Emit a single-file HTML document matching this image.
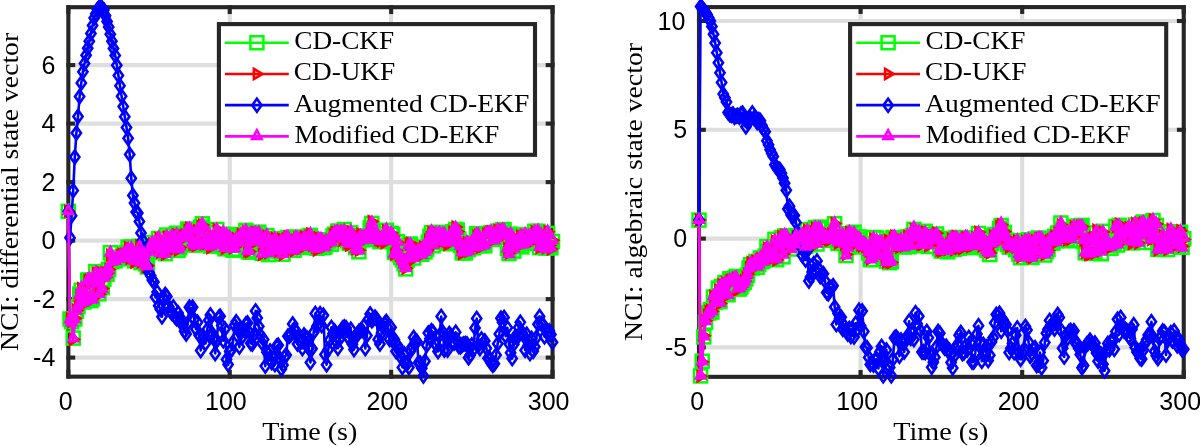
<!DOCTYPE html>
<html lang="en">
<head>
<meta charset="utf-8">
<title>NCI plots</title>
<style>
html,body{margin:0;padding:0;background:#fff;}
body{width:1200px;height:446px;overflow:hidden;}
svg{display:block;}
.tk{font-family:"Liberation Sans",sans-serif;font-size:25px;fill:#000;}
.lb{font-family:"Liberation Serif",serif;font-size:25.5px;fill:#000;}
.ax{stroke:#262626;stroke-width:4.1;fill:none;stroke-linecap:square;}
.gd{stroke:#dedede;stroke-width:4.1;fill:none;}
.ln{fill:none;stroke-width:2.6;stroke-linejoin:round;}
.g{stroke:#00ff00;} .r{stroke:#ff0000;} .b{stroke:#0000ff;} .m{stroke:#ff00ff;}
</style>
</head>
<body>
<svg width="1200" height="446" viewBox="0 0 1200 446">
<defs>
<marker id="mg" markerUnits="userSpaceOnUse" markerWidth="20" markerHeight="20" refX="10" refY="10" overflow="visible"><rect x="3.5" y="3.5" width="13" height="13" fill="none" stroke="#00ff00" stroke-width="2.5"/></marker>
<marker id="mr" markerUnits="userSpaceOnUse" markerWidth="20" markerHeight="20" refX="10" refY="10" overflow="visible"><path d="M7 5 L15.5 10 L7 15 Z" fill="none" stroke="#ff0000" stroke-width="2.6" stroke-linejoin="miter"/></marker>
<marker id="mb" markerUnits="userSpaceOnUse" markerWidth="20" markerHeight="20" refX="10" refY="10" overflow="visible"><path d="M10 3.5 L14.6 10 L10 16.5 L5.4 10 Z" fill="none" stroke="#0000ff" stroke-width="2.6" stroke-linejoin="miter"/></marker>
<marker id="mm" markerUnits="userSpaceOnUse" markerWidth="20" markerHeight="20" refX="10" refY="10" overflow="visible"><path d="M10 4.1 L14.6 12.6 L5.4 12.6 Z" fill="none" stroke="#ff00ff" stroke-width="2.7" stroke-linejoin="miter"/></marker>
</defs>
<rect x="0" y="0" width="1200" height="446" fill="#ffffff"/>

<g>
<line class="gd" x1="229.75" y1="7.2" x2="229.75" y2="376.65"/>
<line class="gd" x1="391.15" y1="7.2" x2="391.15" y2="376.65"/>
<line class="gd" x1="68.35" y1="65.10" x2="552.55" y2="65.10"/>
<line class="gd" x1="68.35" y1="123.60" x2="552.55" y2="123.60"/>
<line class="gd" x1="68.35" y1="182.10" x2="552.55" y2="182.10"/>
<line class="gd" x1="68.35" y1="240.60" x2="552.55" y2="240.60"/>
<line class="gd" x1="68.35" y1="299.10" x2="552.55" y2="299.10"/>
<line class="gd" x1="68.35" y1="357.60" x2="552.55" y2="357.60"/>
<rect class="ax" x="68.35" y="7.2" width="484.20" height="369.45"/>
<line class="ax" x1="68.35" y1="376.65" x2="68.35" y2="371.85"/>
<line class="ax" x1="68.35" y1="7.2" x2="68.35" y2="12.00"/>
<line class="ax" x1="229.75" y1="376.65" x2="229.75" y2="371.85"/>
<line class="ax" x1="229.75" y1="7.2" x2="229.75" y2="12.00"/>
<line class="ax" x1="391.15" y1="376.65" x2="391.15" y2="371.85"/>
<line class="ax" x1="391.15" y1="7.2" x2="391.15" y2="12.00"/>
<line class="ax" x1="552.55" y1="376.65" x2="552.55" y2="371.85"/>
<line class="ax" x1="552.55" y1="7.2" x2="552.55" y2="12.00"/>
<line class="ax" x1="68.35" y1="65.10" x2="73.15" y2="65.10"/>
<line class="ax" x1="552.55" y1="65.10" x2="547.75" y2="65.10"/>
<line class="ax" x1="68.35" y1="123.60" x2="73.15" y2="123.60"/>
<line class="ax" x1="552.55" y1="123.60" x2="547.75" y2="123.60"/>
<line class="ax" x1="68.35" y1="182.10" x2="73.15" y2="182.10"/>
<line class="ax" x1="552.55" y1="182.10" x2="547.75" y2="182.10"/>
<line class="ax" x1="68.35" y1="240.60" x2="73.15" y2="240.60"/>
<line class="ax" x1="552.55" y1="240.60" x2="547.75" y2="240.60"/>
<line class="ax" x1="68.35" y1="299.10" x2="73.15" y2="299.10"/>
<line class="ax" x1="552.55" y1="299.10" x2="547.75" y2="299.10"/>
<line class="ax" x1="68.35" y1="357.60" x2="73.15" y2="357.60"/>
<line class="ax" x1="552.55" y1="357.60" x2="547.75" y2="357.60"/>
<text class="tk" text-anchor="end" x="55.3" y="73.6">6</text>
<text class="tk" text-anchor="end" x="55.3" y="132.1">4</text>
<text class="tk" text-anchor="end" x="55.3" y="190.6">2</text>
<text class="tk" text-anchor="end" x="55.3" y="249.1">0</text>
<text class="tk" text-anchor="end" x="55.3" y="307.6">-2</text>
<text class="tk" text-anchor="end" x="55.3" y="366.1">-4</text>
<text class="tk" text-anchor="middle" x="65.8" y="409.9">0</text>
<text class="tk" text-anchor="middle" x="225.9" y="409.9">100</text>
<text class="tk" text-anchor="middle" x="387.4" y="409.9">200</text>
<text class="tk" text-anchor="middle" x="548.6" y="409.9">300</text>
<text class="lb" text-anchor="middle" x="309.8" y="439.7" textLength="95" lengthAdjust="spacingAndGlyphs">Time (s)</text>
<text class="lb" text-anchor="middle" transform="translate(18.3,191.9) rotate(-90)" textLength="318" lengthAdjust="spacingAndGlyphs">NCI: differential state vector</text>
<polyline class="ln g" marker-start="url(#mg)" marker-mid="url(#mg)" marker-end="url(#mg)" points="68.3,211.3 70.0,319.0 71.6,321.7 73.2,338.1 74.8,319.0 76.4,311.1 78.0,306.7 79.6,294.2 81.3,290.2 82.9,302.0 84.5,301.5 86.1,296.7 87.7,280.1 89.3,280.0 90.9,300.6 92.6,298.7 94.2,279.7 95.8,271.6 97.4,281.0 99.0,293.8 100.6,273.7 102.2,287.7 103.9,279.4 105.5,273.4 107.1,274.3 108.7,269.3 110.3,252.7 111.9,261.6 113.5,258.5 115.2,260.9 116.8,257.7 118.4,258.8 120.0,257.3 121.6,258.1 123.2,255.4 124.8,253.7 126.5,252.8 128.1,247.2 129.7,258.4 131.3,246.9 132.9,255.5 134.5,260.8 136.1,258.1 137.8,254.7 139.4,246.3 141.0,262.7 142.6,254.8 144.2,253.8 145.8,263.9 147.4,267.0 149.0,252.6 150.7,247.7 152.3,242.6 153.9,245.6 155.5,245.5 157.1,246.7 158.7,238.5 160.3,251.5 162.0,249.6 163.6,242.4 165.2,253.7 166.8,235.0 168.4,249.3 170.0,244.9 171.6,235.8 173.3,246.2 174.9,247.7 176.5,233.2 178.1,250.4 179.7,247.7 181.3,238.3 182.9,237.7 184.6,236.2 186.2,234.8 187.8,229.0 189.4,230.8 191.0,229.9 192.6,241.8 194.2,245.0 195.9,244.7 197.5,231.6 199.1,244.4 200.7,227.1 202.3,223.8 203.9,242.6 205.5,244.0 207.2,244.3 208.8,232.7 210.4,246.1 212.0,242.8 213.6,244.9 215.2,240.9 216.8,229.5 218.5,245.9 220.1,238.8 221.7,235.8 223.3,234.5 224.9,248.8 226.5,234.4 228.1,239.6 229.7,236.1 231.4,242.7 233.0,250.2 234.6,249.1 236.2,238.6 237.8,242.1 239.4,243.4 241.0,235.0 242.7,234.5 244.3,238.2 245.9,230.4 247.5,250.6 249.1,252.2 250.7,233.0 252.3,241.8 254.0,233.1 255.6,232.6 257.2,240.9 258.8,232.2 260.4,238.9 262.0,253.3 263.6,244.7 265.3,241.8 266.9,235.6 268.5,254.6 270.1,247.6 271.7,251.1 273.3,247.1 274.9,238.6 276.6,240.5 278.2,250.3 279.8,247.9 281.4,240.7 283.0,254.2 284.6,249.1 286.2,238.9 287.9,237.5 289.5,244.8 291.1,247.7 292.7,245.2 294.3,250.2 295.9,237.0 297.5,238.9 299.2,238.9 300.8,247.4 302.4,246.6 304.0,238.0 305.6,238.6 307.2,244.6 308.8,236.1 310.4,235.4 312.1,246.1 313.7,244.5 315.3,247.4 316.9,248.3 318.5,239.8 320.1,240.8 321.7,240.1 323.4,247.6 325.0,246.9 326.6,241.7 328.2,241.1 329.8,239.7 331.4,244.2 333.0,235.9 334.7,234.1 336.3,234.9 337.9,231.0 339.5,235.6 341.1,232.6 342.7,239.2 344.3,229.5 346.0,238.1 347.6,240.8 349.2,243.5 350.8,232.9 352.4,235.6 354.0,238.6 355.6,247.6 357.3,243.2 358.9,251.8 360.5,237.7 362.1,239.7 363.7,238.4 365.3,235.7 366.9,239.6 368.6,237.5 370.2,228.0 371.8,223.4 373.4,235.5 375.0,237.7 376.6,234.0 378.2,239.3 379.9,241.6 381.5,240.3 383.1,237.2 384.7,241.3 386.3,230.3 387.9,240.2 389.5,240.3 391.1,233.4 392.8,234.4 394.4,252.5 396.0,250.3 397.6,241.8 399.2,254.6 400.8,257.5 402.4,259.8 404.1,263.7 405.7,268.9 407.3,260.0 408.9,245.1 410.5,244.0 412.1,250.7 413.7,258.0 415.4,253.5 417.0,253.1 418.6,250.1 420.2,252.9 421.8,254.3 423.4,247.2 425.0,251.9 426.7,249.1 428.3,242.2 429.9,236.2 431.5,232.7 433.1,245.7 434.7,236.7 436.3,232.4 438.0,238.6 439.6,234.3 441.2,242.4 442.8,235.2 444.4,232.9 446.0,242.2 447.6,243.4 449.3,240.6 450.9,243.7 452.5,231.8 454.1,233.9 455.7,229.4 457.3,230.1 458.9,239.1 460.6,245.3 462.2,252.9 463.8,251.4 465.4,253.0 467.0,243.5 468.6,249.5 470.2,245.5 471.8,243.0 473.5,247.8 475.1,245.5 476.7,233.7 478.3,234.1 479.9,245.7 481.5,244.1 483.1,245.3 484.8,245.8 486.4,233.5 488.0,235.1 489.6,233.6 491.2,232.6 492.8,238.8 494.4,239.4 496.1,237.0 497.7,231.1 499.3,235.9 500.9,232.4 502.5,229.6 504.1,229.7 505.7,234.9 507.4,248.4 509.0,253.6 510.6,234.1 512.2,235.8 513.8,251.1 515.4,245.9 517.0,242.7 518.7,245.6 520.3,237.4 521.9,246.9 523.5,243.5 525.1,234.8 526.7,243.2 528.3,235.0 530.0,237.1 531.6,238.6 533.2,239.6 534.8,231.3 536.4,241.5 538.0,231.3 539.6,247.7 541.3,234.4 542.9,236.0 544.5,245.2 546.1,248.1 547.7,233.4 549.3,247.2 550.9,247.8 552.5,241.5"/>
<polyline class="ln r" marker-start="url(#mr)" marker-mid="url(#mr)" marker-end="url(#mr)" points="68.3,211.3 70.0,318.8 71.6,321.6 73.2,339.4 74.8,318.4 76.4,310.5 78.0,306.4 79.6,295.5 81.3,288.6 82.9,304.6 84.5,301.1 86.1,296.2 87.7,280.7 89.3,280.3 90.9,300.3 92.6,298.6 94.2,281.4 95.8,273.2 97.4,283.7 99.0,294.3 100.6,272.6 102.2,288.6 103.9,278.6 105.5,272.9 107.1,273.4 108.7,269.5 110.3,255.0 111.9,261.4 113.5,258.6 115.2,261.0 116.8,258.5 118.4,258.8 120.0,255.9 121.6,254.4 123.2,255.1 124.8,254.3 126.5,254.4 128.1,247.6 129.7,258.2 131.3,249.2 132.9,253.6 134.5,262.3 136.1,256.4 137.8,255.2 139.4,245.8 141.0,261.9 142.6,253.9 144.2,254.5 145.8,266.7 147.4,265.4 149.0,250.7 150.7,248.1 152.3,243.9 153.9,244.7 155.5,246.0 157.1,247.4 158.7,238.5 160.3,252.2 162.0,249.7 163.6,241.6 165.2,254.3 166.8,236.9 168.4,249.1 170.0,247.0 171.6,237.8 173.3,248.3 174.9,248.2 176.5,234.9 178.1,249.9 179.7,247.4 181.3,237.9 182.9,236.1 184.6,234.9 186.2,237.0 187.8,230.5 189.4,228.1 191.0,232.3 192.6,244.0 194.2,244.1 195.9,245.5 197.5,230.7 199.1,244.1 200.7,226.7 202.3,225.0 203.9,243.8 205.5,243.2 207.2,242.9 208.8,233.6 210.4,247.8 212.0,242.6 213.6,244.1 215.2,242.8 216.8,229.6 218.5,243.4 220.1,239.0 221.7,236.9 223.3,232.8 224.9,248.5 226.5,234.9 228.1,238.9 229.7,237.2 231.4,241.8 233.0,247.8 234.6,247.1 236.2,238.8 237.8,241.7 239.4,242.0 241.0,234.3 242.7,236.1 244.3,238.7 245.9,231.6 247.5,250.8 249.1,251.7 250.7,234.6 252.3,243.5 254.0,233.3 255.6,232.7 257.2,240.8 258.8,232.7 260.4,238.8 262.0,254.4 263.6,242.5 265.3,242.1 266.9,236.3 268.5,252.4 270.1,246.6 271.7,250.2 273.3,248.4 274.9,238.3 276.6,241.9 278.2,251.2 279.8,246.1 281.4,239.2 283.0,254.6 284.6,250.1 286.2,239.0 287.9,236.9 289.5,244.4 291.1,247.8 292.7,244.2 294.3,250.5 295.9,240.5 297.5,238.2 299.2,239.8 300.8,248.4 302.4,246.0 304.0,237.0 305.6,237.8 307.2,242.2 308.8,236.0 310.4,233.9 312.1,244.9 313.7,244.7 315.3,247.1 316.9,250.2 318.5,238.2 320.1,240.8 321.7,238.8 323.4,246.8 325.0,246.8 326.6,241.0 328.2,243.4 329.8,240.1 331.4,241.8 333.0,235.1 334.7,232.4 336.3,233.0 337.9,232.7 339.5,235.6 341.1,231.3 342.7,240.0 344.3,231.2 346.0,238.9 347.6,243.1 349.2,245.2 350.8,232.0 352.4,235.7 354.0,237.0 355.6,248.8 357.3,241.7 358.9,250.3 360.5,234.1 362.1,239.9 363.7,237.9 365.3,236.3 366.9,238.4 368.6,236.5 370.2,229.8 371.8,221.4 373.4,235.6 375.0,235.5 376.6,233.6 378.2,239.6 379.9,240.3 381.5,241.0 383.1,239.2 384.7,242.7 386.3,230.8 387.9,239.4 389.5,238.7 391.1,233.0 392.8,235.9 394.4,254.2 396.0,250.6 397.6,242.5 399.2,255.0 400.8,257.0 402.4,261.2 404.1,264.9 405.7,268.2 407.3,261.0 408.9,244.3 410.5,243.3 412.1,250.5 413.7,259.1 415.4,254.1 417.0,253.5 418.6,250.1 420.2,253.7 421.8,255.0 423.4,247.2 425.0,250.8 426.7,250.7 428.3,240.2 429.9,237.7 431.5,232.4 433.1,245.4 434.7,237.1 436.3,232.6 438.0,239.0 439.6,234.6 441.2,241.9 442.8,233.7 444.4,235.0 446.0,241.1 447.6,244.6 449.3,240.6 450.9,242.6 452.5,232.0 454.1,234.5 455.7,226.9 457.3,231.5 458.9,240.7 460.6,246.5 462.2,253.4 463.8,251.1 465.4,251.3 467.0,242.8 468.6,251.3 470.2,243.2 471.8,243.1 473.5,247.4 475.1,244.9 476.7,235.9 478.3,235.3 479.9,247.3 481.5,245.9 483.1,245.7 484.8,244.6 486.4,234.3 488.0,233.5 489.6,232.5 491.2,231.8 492.8,240.2 494.4,238.9 496.1,238.1 497.7,230.3 499.3,237.4 500.9,231.5 502.5,230.1 504.1,230.4 505.7,234.6 507.4,248.7 509.0,253.0 510.6,234.9 512.2,237.5 513.8,248.9 515.4,245.8 517.0,242.9 518.7,244.4 520.3,236.0 521.9,243.9 523.5,241.9 525.1,235.6 526.7,242.6 528.3,235.9 530.0,237.0 531.6,239.0 533.2,241.1 534.8,231.8 536.4,237.7 538.0,231.4 539.6,247.6 541.3,234.2 542.9,237.5 544.5,244.9 546.1,247.8 547.7,231.7 549.3,245.5 550.9,249.0 552.5,240.2"/>
<polyline class="ln b" marker-start="url(#mb)" marker-mid="url(#mb)" marker-end="url(#mb)" points="68.3,211.3 70.0,237.7 71.6,215.7 73.2,190.6 74.8,156.9 76.4,133.0 78.0,116.6 79.6,96.4 81.3,82.9 82.9,71.8 84.5,63.6 86.1,55.3 87.7,48.2 89.3,41.2 90.9,33.4 92.6,25.4 94.2,17.9 95.8,13.7 97.4,9.5 99.0,7.9 100.6,6.9 102.2,8.3 103.9,10.1 105.5,15.8 107.1,21.4 108.7,27.1 110.3,34.2 111.9,41.3 113.5,48.4 115.2,55.5 116.8,65.2 118.4,75.5 120.0,85.8 121.6,96.2 123.2,106.5 124.8,116.8 126.5,127.4 128.1,138.2 129.7,154.5 131.3,178.2 132.9,195.6 134.5,202.9 136.1,211.9 137.8,212.9 139.4,221.4 141.0,233.0 142.6,240.2 144.2,249.6 145.8,253.8 147.4,266.6 149.0,272.5 150.7,275.7 152.3,280.0 153.9,282.1 155.5,297.1 157.1,292.0 158.7,305.7 160.3,309.3 162.0,316.7 163.6,297.8 165.2,294.6 166.8,296.6 168.4,306.2 170.0,310.6 171.6,313.0 173.3,307.0 174.9,316.4 176.5,318.4 178.1,313.1 179.7,318.1 181.3,323.4 182.9,321.4 184.6,331.3 186.2,334.1 187.8,323.2 189.4,307.3 191.0,309.2 192.6,307.3 194.2,319.4 195.9,329.1 197.5,322.3 199.1,335.2 200.7,350.4 202.3,338.8 203.9,337.3 205.5,343.5 207.2,329.4 208.8,320.3 210.4,315.1 212.0,333.2 213.6,338.7 215.2,353.4 216.8,340.8 218.5,317.7 220.1,316.2 221.7,325.4 223.3,340.7 224.9,328.9 226.5,359.4 228.1,364.5 229.7,351.6 231.4,349.9 233.0,342.2 234.6,325.3 236.2,321.7 237.8,329.7 239.4,347.1 241.0,332.7 242.7,336.3 244.3,330.0 245.9,324.0 247.5,323.0 249.1,332.3 250.7,343.2 252.3,344.0 254.0,334.8 255.6,310.9 257.2,318.0 258.8,326.4 260.4,335.2 262.0,343.0 263.6,339.6 265.3,366.1 266.9,352.2 268.5,353.7 270.1,351.1 271.7,362.5 273.3,358.2 274.9,364.4 276.6,346.2 278.2,345.2 279.8,358.6 281.4,368.9 283.0,365.0 284.6,357.1 286.2,354.9 287.9,336.2 289.5,336.1 291.1,334.3 292.7,324.1 294.3,329.3 295.9,330.8 297.5,344.0 299.2,339.7 300.8,342.1 302.4,348.4 304.0,334.9 305.6,337.1 307.2,338.6 308.8,348.6 310.4,362.4 312.1,348.8 313.7,332.2 315.3,313.5 316.9,326.3 318.5,324.0 320.1,313.7 321.7,325.6 323.4,315.3 325.0,354.6 326.6,364.7 328.2,349.7 329.8,340.0 331.4,327.4 333.0,333.5 334.7,331.2 336.3,341.5 337.9,348.3 339.5,339.2 341.1,330.8 342.7,328.1 344.3,327.0 346.0,327.8 347.6,336.6 349.2,338.8 350.8,329.3 352.4,344.3 354.0,349.4 355.6,337.4 357.3,334.0 358.9,331.6 360.5,330.5 362.1,330.5 363.7,326.2 365.3,348.5 366.9,335.4 368.6,319.3 370.2,314.0 371.8,320.7 373.4,319.0 375.0,317.2 376.6,318.9 378.2,339.5 379.9,343.9 381.5,333.0 383.1,326.8 384.7,323.6 386.3,321.5 387.9,327.9 389.5,339.2 391.1,327.5 392.8,341.2 394.4,339.4 396.0,351.3 397.6,345.4 399.2,350.4 400.8,357.2 402.4,367.4 404.1,353.8 405.7,363.4 407.3,363.4 408.9,367.4 410.5,351.1 412.1,346.9 413.7,337.4 415.4,340.9 417.0,341.7 418.6,362.7 420.2,363.3 421.8,368.3 423.4,376.0 425.0,361.3 426.7,345.2 428.3,333.0 429.9,338.7 431.5,330.8 433.1,332.2 434.7,342.7 436.3,345.3 438.0,351.4 439.6,335.2 441.2,316.5 442.8,332.2 444.4,350.0 446.0,336.8 447.6,350.1 449.3,333.4 450.9,336.0 452.5,341.8 454.1,343.0 455.7,332.2 457.3,340.8 458.9,346.6 460.6,346.7 462.2,344.7 463.8,344.1 465.4,343.8 467.0,344.0 468.6,357.7 470.2,355.0 471.8,344.9 473.5,349.5 475.1,328.1 476.7,318.6 478.3,345.4 479.9,348.4 481.5,339.0 483.1,343.3 484.8,341.1 486.4,348.2 488.0,358.2 489.6,358.2 491.2,363.2 492.8,365.2 494.4,363.7 496.1,354.9 497.7,343.7 499.3,334.0 500.9,318.3 502.5,322.2 504.1,317.4 505.7,336.2 507.4,327.7 509.0,343.6 510.6,352.8 512.2,358.5 513.8,344.3 515.4,336.6 517.0,337.9 518.7,327.4 520.3,322.2 521.9,332.6 523.5,335.5 525.1,350.2 526.7,334.3 528.3,345.2 530.0,353.4 531.6,338.4 533.2,351.3 534.8,346.7 536.4,337.5 538.0,324.2 539.6,316.4 541.3,323.7 542.9,324.5 544.5,336.7 546.1,330.1 547.7,333.7 549.3,330.9 550.9,334.4 552.5,342.2"/>
<polyline class="ln m" marker-start="url(#mm)" marker-mid="url(#mm)" marker-end="url(#mm)" points="68.3,211.3 70.0,319.6 71.6,322.5 73.2,338.6 74.8,319.6 76.4,310.8 78.0,305.9 79.6,294.7 81.3,288.5 82.9,302.7 84.5,302.0 86.1,296.2 87.7,280.2 89.3,279.3 90.9,299.8 92.6,299.5 94.2,279.9 95.8,273.3 97.4,283.3 99.0,294.4 100.6,273.9 102.2,289.1 103.9,277.9 105.5,272.4 107.1,274.2 108.7,269.6 110.3,252.9 111.9,261.8 113.5,259.2 115.2,261.0 116.8,258.2 118.4,259.1 120.0,256.8 121.6,257.4 123.2,254.6 124.8,254.1 126.5,252.7 128.1,248.9 129.7,258.6 131.3,248.6 132.9,254.7 134.5,260.9 136.1,257.1 137.8,254.7 139.4,247.2 141.0,262.5 142.6,254.8 144.2,254.4 145.8,265.8 147.4,266.4 149.0,251.9 150.7,247.4 152.3,242.8 153.9,245.2 155.5,246.0 157.1,247.6 158.7,237.7 160.3,253.2 162.0,248.6 163.6,242.9 165.2,254.1 166.8,236.9 168.4,248.9 170.0,245.1 171.6,236.4 173.3,247.1 174.9,247.7 176.5,234.9 178.1,249.5 179.7,247.1 181.3,238.4 182.9,237.0 184.6,235.0 186.2,236.1 187.8,229.8 189.4,229.0 191.0,230.8 192.6,242.8 194.2,244.1 195.9,245.9 197.5,230.3 199.1,243.9 200.7,227.0 202.3,224.2 203.9,242.9 205.5,244.2 207.2,243.6 208.8,234.1 210.4,246.6 212.0,242.3 213.6,244.4 215.2,242.2 216.8,230.1 218.5,245.1 220.1,238.4 221.7,236.7 223.3,232.8 224.9,248.1 226.5,235.0 228.1,238.5 229.7,237.5 231.4,241.7 233.0,249.0 234.6,247.9 236.2,238.7 237.8,241.8 239.4,242.7 241.0,235.1 242.7,233.7 244.3,238.5 245.9,231.0 247.5,250.9 249.1,251.3 250.7,233.7 252.3,241.9 254.0,233.8 255.6,233.5 257.2,240.6 258.8,232.9 260.4,238.3 262.0,253.9 263.6,243.2 265.3,242.4 266.9,235.6 268.5,253.1 270.1,247.9 271.7,250.6 273.3,248.9 274.9,238.8 276.6,242.5 278.2,251.0 279.8,247.1 281.4,241.0 283.0,254.4 284.6,249.8 286.2,237.6 287.9,237.3 289.5,244.3 291.1,247.9 292.7,245.4 294.3,250.5 295.9,237.6 297.5,238.7 299.2,239.6 300.8,247.1 302.4,246.2 304.0,238.3 305.6,238.8 307.2,243.8 308.8,238.1 310.4,234.5 312.1,244.8 313.7,245.5 315.3,247.9 316.9,248.7 318.5,239.3 320.1,239.6 321.7,239.9 323.4,247.6 325.0,246.9 326.6,241.7 328.2,242.2 329.8,238.8 331.4,242.6 333.0,235.6 334.7,232.6 336.3,232.5 337.9,232.3 339.5,235.8 341.1,232.0 342.7,238.8 344.3,231.0 346.0,239.1 347.6,241.6 349.2,243.8 350.8,232.0 352.4,235.4 354.0,237.8 355.6,249.4 357.3,242.3 358.9,250.6 360.5,236.2 362.1,240.4 363.7,236.9 365.3,236.2 366.9,239.9 368.6,237.3 370.2,230.2 371.8,222.9 373.4,236.0 375.0,236.6 376.6,233.3 378.2,240.0 379.9,241.0 381.5,240.3 383.1,237.8 384.7,241.4 386.3,229.9 387.9,240.2 389.5,238.4 391.1,233.2 392.8,235.4 394.4,254.0 396.0,250.9 397.6,241.9 399.2,254.7 400.8,256.8 402.4,260.7 404.1,264.5 405.7,268.4 407.3,258.6 408.9,245.5 410.5,245.1 412.1,250.3 413.7,258.2 415.4,253.9 417.0,254.0 418.6,250.6 420.2,252.1 421.8,255.1 423.4,246.9 425.0,251.9 426.7,249.9 428.3,240.6 429.9,237.0 431.5,231.8 433.1,245.1 434.7,237.7 436.3,233.5 438.0,237.8 439.6,233.3 441.2,241.1 442.8,234.4 444.4,234.3 446.0,242.4 447.6,242.5 449.3,240.5 450.9,242.5 452.5,231.7 454.1,234.5 455.7,228.2 457.3,230.9 458.9,240.5 460.6,246.1 462.2,252.4 463.8,252.2 465.4,252.2 467.0,242.6 468.6,251.4 470.2,244.4 471.8,242.3 473.5,247.5 475.1,245.6 476.7,234.8 478.3,234.8 479.9,246.9 481.5,244.8 483.1,245.5 484.8,244.6 486.4,233.6 488.0,234.5 489.6,232.9 491.2,232.4 492.8,240.6 494.4,240.3 496.1,237.9 497.7,230.2 499.3,235.9 500.9,232.2 502.5,229.9 504.1,230.4 505.7,234.8 507.4,248.5 509.0,254.2 510.6,234.4 512.2,236.5 513.8,248.7 515.4,245.0 517.0,242.6 518.7,244.7 520.3,236.4 521.9,244.7 523.5,244.0 525.1,234.5 526.7,242.4 528.3,236.5 530.0,236.7 531.6,239.4 533.2,239.8 534.8,231.9 536.4,239.7 538.0,231.1 539.6,247.3 541.3,235.0 542.9,238.4 544.5,246.5 546.1,249.2 547.7,232.1 549.3,247.4 550.9,247.5 552.5,240.2"/>
<rect x="218.9" y="24.1" width="316.1" height="130.7" fill="#fff" stroke="#262626" stroke-width="4.1"/>
<polyline class="ln g" marker-mid="url(#mg)" points="225.0,42.75 256.9,42.75 288.8,42.75"/>
<text class="lb" x="294.3" y="49.0" textLength="99.8" lengthAdjust="spacingAndGlyphs">CD-CKF</text>
<polyline class="ln r" marker-mid="url(#mr)" points="225.0,73.95 256.9,73.95 288.8,73.95"/>
<text class="lb" x="293.8" y="80.2" textLength="101.4" lengthAdjust="spacingAndGlyphs">CD-UKF</text>
<polyline class="ln b" marker-mid="url(#mb)" points="225.0,105.15 256.9,105.15 288.8,105.15"/>
<text class="lb" x="293.8" y="111.5" textLength="235.6" lengthAdjust="spacingAndGlyphs">Augmented CD-EKF</text>
<polyline class="ln m" marker-mid="url(#mm)" points="225.0,136.35 256.9,136.35 288.8,136.35"/>
<text class="lb" x="294.5" y="142.7" textLength="204.8" lengthAdjust="spacingAndGlyphs">Modified CD-EKF</text>
</g>
<g>
<line class="gd" x1="860.58" y1="7.1" x2="860.58" y2="376.85"/>
<line class="gd" x1="1022.17" y1="7.1" x2="1022.17" y2="376.85"/>
<line class="gd" x1="699.0" y1="21.00" x2="1183.75" y2="21.00"/>
<line class="gd" x1="699.0" y1="129.80" x2="1183.75" y2="129.80"/>
<line class="gd" x1="699.0" y1="238.60" x2="1183.75" y2="238.60"/>
<line class="gd" x1="699.0" y1="347.40" x2="1183.75" y2="347.40"/>
<rect class="ax" x="699.0" y="7.1" width="484.75" height="369.75"/>
<line class="ax" x1="699.00" y1="376.85" x2="699.00" y2="372.05"/>
<line class="ax" x1="699.00" y1="7.1" x2="699.00" y2="11.90"/>
<line class="ax" x1="860.58" y1="376.85" x2="860.58" y2="372.05"/>
<line class="ax" x1="860.58" y1="7.1" x2="860.58" y2="11.90"/>
<line class="ax" x1="1022.17" y1="376.85" x2="1022.17" y2="372.05"/>
<line class="ax" x1="1022.17" y1="7.1" x2="1022.17" y2="11.90"/>
<line class="ax" x1="1183.75" y1="376.85" x2="1183.75" y2="372.05"/>
<line class="ax" x1="1183.75" y1="7.1" x2="1183.75" y2="11.90"/>
<line class="ax" x1="699.0" y1="21.00" x2="703.80" y2="21.00"/>
<line class="ax" x1="1183.75" y1="21.00" x2="1178.95" y2="21.00"/>
<line class="ax" x1="699.0" y1="129.80" x2="703.80" y2="129.80"/>
<line class="ax" x1="1183.75" y1="129.80" x2="1178.95" y2="129.80"/>
<line class="ax" x1="699.0" y1="238.60" x2="703.80" y2="238.60"/>
<line class="ax" x1="1183.75" y1="238.60" x2="1178.95" y2="238.60"/>
<line class="ax" x1="699.0" y1="347.40" x2="703.80" y2="347.40"/>
<line class="ax" x1="1183.75" y1="347.40" x2="1178.95" y2="347.40"/>
<text class="tk" text-anchor="end" x="685.4" y="29.5">10</text>
<text class="tk" text-anchor="end" x="687.2" y="138.3">5</text>
<text class="tk" text-anchor="end" x="687.2" y="247.1">0</text>
<text class="tk" text-anchor="end" x="687.2" y="355.9">-5</text>
<text class="tk" text-anchor="middle" x="697.2" y="409.9">0</text>
<text class="tk" text-anchor="middle" x="857.2" y="409.9">100</text>
<text class="tk" text-anchor="middle" x="1018.5" y="409.9">200</text>
<text class="tk" text-anchor="middle" x="1180.2" y="409.9">300</text>
<text class="lb" text-anchor="middle" x="940.8" y="439.7" textLength="95" lengthAdjust="spacingAndGlyphs">Time (s)</text>
<text class="lb" text-anchor="middle" transform="translate(641.9,192.0) rotate(-90)" textLength="298" lengthAdjust="spacingAndGlyphs">NCI: algebraic state vector</text>
<polyline class="ln g" marker-start="url(#mg)" marker-mid="url(#mg)" marker-end="url(#mg)" points="699.0,220.1 700.6,375.9 702.2,361.2 703.8,336.9 705.5,322.2 707.1,312.7 708.7,313.1 710.3,309.7 711.9,312.1 713.5,297.0 715.2,302.5 716.8,296.5 718.4,288.1 720.0,301.7 721.6,286.4 723.2,292.7 724.9,282.5 726.5,294.4 728.1,294.7 729.7,278.8 731.3,280.0 732.9,284.3 734.5,278.1 736.2,276.4 737.8,288.7 739.4,289.0 741.0,287.0 742.6,283.8 744.2,282.4 745.9,279.0 747.5,275.2 749.1,267.9 750.7,264.7 752.3,268.0 753.9,264.0 755.6,261.5 757.2,267.2 758.8,264.5 760.4,257.9 762.0,261.6 763.6,260.6 765.2,256.0 766.9,246.5 768.5,251.4 770.1,257.5 771.7,258.1 773.3,253.5 774.9,239.3 776.6,259.7 778.2,248.4 779.8,244.2 781.4,237.7 783.0,256.8 784.6,236.0 786.3,236.3 787.9,243.9 789.5,244.1 791.1,249.0 792.7,245.2 794.3,244.2 796.0,235.6 797.6,238.7 799.2,242.2 800.8,236.4 802.4,234.1 804.0,235.3 805.6,246.5 807.3,229.6 808.9,244.8 810.5,244.4 812.1,238.2 813.7,231.7 815.3,227.5 817.0,244.0 818.6,228.7 820.2,227.2 821.8,235.7 823.4,237.0 825.0,238.0 826.7,237.6 828.3,240.3 829.9,238.8 831.5,235.8 833.1,230.6 834.7,223.7 836.3,237.6 838.0,243.5 839.6,235.4 841.2,241.4 842.8,234.4 844.4,243.4 846.0,255.5 847.7,247.4 849.3,233.8 850.9,233.7 852.5,242.2 854.1,232.2 855.7,242.6 857.4,239.6 859.0,236.9 860.6,244.1 862.2,247.0 863.8,244.1 865.4,244.2 867.0,246.1 868.7,252.9 870.3,259.7 871.9,259.5 873.5,237.5 875.1,251.5 876.7,238.0 878.4,254.9 880.0,242.9 881.6,242.7 883.2,245.4 884.8,256.3 886.4,261.2 888.1,243.4 889.7,262.7 891.3,261.6 892.9,237.7 894.5,237.6 896.1,243.3 897.7,245.8 899.4,246.3 901.0,238.7 902.6,244.0 904.2,247.0 905.8,245.3 907.4,236.9 909.1,246.7 910.7,243.8 912.3,235.5 913.9,229.4 915.5,235.2 917.1,237.5 918.8,232.0 920.4,245.7 922.0,244.4 923.6,235.9 925.2,231.3 926.8,234.4 928.4,246.5 930.1,237.3 931.7,236.2 933.3,241.3 934.9,237.4 936.5,234.0 938.1,241.6 939.8,248.8 941.4,251.1 943.0,244.8 944.6,246.9 946.2,248.8 947.8,251.8 949.5,242.4 951.1,238.6 952.7,239.0 954.3,249.4 955.9,237.5 957.5,237.8 959.1,248.2 960.8,240.5 962.4,246.2 964.0,246.7 965.6,237.9 967.2,238.2 968.8,244.4 970.5,245.6 972.1,239.5 973.7,247.6 975.3,238.9 976.9,241.1 978.5,233.5 980.2,238.2 981.8,245.1 983.4,238.7 985.0,241.3 986.6,249.8 988.2,250.5 989.8,254.6 991.5,243.6 993.1,236.5 994.7,234.7 996.3,240.7 997.9,234.5 999.5,228.4 1001.2,225.5 1002.8,236.3 1004.4,232.4 1006.0,240.1 1007.6,244.6 1009.2,247.0 1010.9,246.9 1012.5,244.9 1014.1,246.0 1015.7,249.7 1017.3,240.6 1018.9,254.1 1020.6,257.7 1022.2,243.7 1023.8,251.5 1025.4,242.6 1027.0,252.8 1028.6,239.8 1030.2,257.1 1031.9,257.4 1033.5,245.8 1035.1,239.0 1036.7,254.4 1038.3,238.0 1039.9,239.9 1041.6,240.1 1043.2,247.9 1044.8,255.0 1046.4,251.8 1048.0,249.3 1049.6,238.8 1051.3,240.8 1052.9,243.1 1054.5,236.4 1056.1,240.9 1057.7,233.1 1059.3,237.3 1060.9,223.0 1062.6,229.4 1064.2,234.6 1065.8,235.1 1067.4,239.1 1069.0,231.1 1070.6,240.8 1072.3,236.3 1073.9,226.4 1075.5,232.2 1077.1,233.4 1078.7,226.2 1080.3,227.8 1082.0,225.4 1083.6,241.4 1085.2,252.8 1086.8,239.9 1088.4,252.3 1090.0,253.4 1091.6,238.8 1093.3,238.7 1094.9,251.9 1096.5,232.9 1098.1,242.9 1099.7,246.5 1101.3,253.8 1103.0,231.3 1104.6,241.4 1106.2,245.4 1107.8,242.4 1109.4,245.3 1111.0,248.2 1112.7,244.6 1114.3,243.7 1115.9,226.6 1117.5,245.0 1119.1,225.3 1120.7,235.0 1122.3,240.6 1124.0,234.5 1125.6,231.5 1127.2,230.1 1128.8,228.3 1130.4,230.8 1132.0,242.9 1133.7,240.0 1135.3,225.0 1136.9,232.0 1138.5,242.4 1140.1,236.0 1141.7,223.5 1143.4,222.0 1145.0,230.8 1146.6,230.1 1148.2,227.0 1149.8,233.1 1151.4,242.5 1153.0,220.6 1154.7,236.0 1156.3,225.4 1157.9,249.3 1159.5,249.4 1161.1,249.2 1162.7,235.4 1164.4,243.5 1166.0,245.9 1167.6,249.5 1169.2,239.3 1170.8,231.7 1172.4,242.9 1174.1,235.5 1175.7,238.9 1177.3,246.3 1178.9,238.2 1180.5,232.3 1182.1,247.2 1183.8,238.8"/>
<polyline class="ln r" marker-start="url(#mr)" marker-mid="url(#mr)" marker-end="url(#mr)" points="699.0,220.1 700.6,376.2 702.2,362.1 703.8,335.7 705.5,320.8 707.1,315.3 708.7,311.6 710.3,310.3 711.9,311.5 713.5,296.3 715.2,302.1 716.8,296.9 718.4,290.3 720.0,303.4 721.6,284.7 723.2,291.6 724.9,282.9 726.5,294.9 728.1,295.0 729.7,280.7 731.3,280.3 732.9,281.6 734.5,280.0 736.2,278.2 737.8,289.1 739.4,288.9 741.0,287.0 742.6,284.0 744.2,280.8 745.9,277.4 747.5,274.3 749.1,267.9 750.7,262.5 752.3,265.4 753.9,265.1 755.6,261.0 757.2,266.2 758.8,264.1 760.4,258.6 762.0,262.3 763.6,260.4 765.2,258.1 766.9,248.1 768.5,251.8 770.1,257.0 771.7,259.0 773.3,254.2 774.9,241.0 776.6,260.0 778.2,246.2 779.8,245.7 781.4,236.7 783.0,254.1 784.6,235.1 786.3,237.9 787.9,244.7 789.5,243.7 791.1,248.6 792.7,244.1 794.3,244.4 796.0,236.6 797.6,238.3 799.2,241.1 800.8,236.9 802.4,235.4 804.0,235.3 805.6,247.7 807.3,230.3 808.9,243.6 810.5,244.5 812.1,238.6 813.7,231.9 815.3,228.1 817.0,244.0 818.6,229.2 820.2,229.7 821.8,236.0 823.4,236.0 825.0,237.3 826.7,237.4 828.3,239.4 829.9,239.9 831.5,234.1 833.1,231.5 834.7,223.4 836.3,238.7 838.0,242.9 839.6,235.7 841.2,239.8 842.8,235.7 844.4,244.4 846.0,254.6 847.7,248.0 849.3,232.4 850.9,235.4 852.5,242.5 854.1,233.4 855.7,243.4 857.4,240.4 859.0,238.3 860.6,245.1 862.2,245.9 863.8,243.7 865.4,246.6 867.0,246.8 868.7,251.1 870.3,258.7 871.9,257.5 873.5,239.0 875.1,251.2 876.7,240.5 878.4,253.3 880.0,242.3 881.6,241.9 883.2,245.3 884.8,256.5 886.4,262.0 888.1,240.4 889.7,262.1 891.3,262.4 892.9,238.6 894.5,236.0 896.1,243.2 897.7,245.6 899.4,247.3 901.0,240.4 902.6,244.4 904.2,246.1 905.8,245.0 907.4,236.4 909.1,244.5 910.7,244.2 912.3,237.6 913.9,229.5 915.5,235.1 917.1,237.8 918.8,230.6 920.4,243.9 922.0,244.6 923.6,234.8 925.2,232.1 926.8,236.5 928.4,245.8 930.1,237.0 931.7,236.5 933.3,240.1 934.9,236.4 936.5,233.2 938.1,240.3 939.8,249.9 941.4,251.1 943.0,244.2 944.6,249.7 946.2,248.3 947.8,249.4 949.5,243.6 951.1,238.9 952.7,241.3 954.3,249.8 955.9,236.4 957.5,239.8 959.1,248.2 960.8,240.6 962.4,248.5 964.0,246.5 965.6,237.8 967.2,238.6 968.8,245.2 970.5,246.5 972.1,240.3 973.7,245.3 975.3,237.7 976.9,239.7 978.5,232.3 980.2,236.8 981.8,246.1 983.4,238.8 985.0,243.5 986.6,249.2 988.2,250.9 989.8,252.9 991.5,245.2 993.1,236.1 994.7,236.8 996.3,242.8 997.9,235.4 999.5,226.5 1001.2,224.7 1002.8,237.4 1004.4,231.6 1006.0,237.5 1007.6,243.9 1009.2,246.9 1010.9,244.0 1012.5,244.6 1014.1,245.8 1015.7,247.2 1017.3,240.8 1018.9,253.2 1020.6,256.9 1022.2,244.8 1023.8,252.1 1025.4,241.3 1027.0,254.5 1028.6,240.1 1030.2,255.9 1031.9,257.8 1033.5,245.9 1035.1,240.7 1036.7,253.7 1038.3,239.1 1039.9,238.5 1041.6,238.2 1043.2,246.9 1044.8,254.5 1046.4,252.2 1048.0,250.5 1049.6,241.1 1051.3,240.0 1052.9,241.4 1054.5,236.1 1056.1,242.5 1057.7,232.6 1059.3,238.5 1060.9,224.8 1062.6,229.3 1064.2,234.2 1065.8,236.9 1067.4,239.7 1069.0,233.0 1070.6,239.2 1072.3,237.2 1073.9,226.9 1075.5,232.0 1077.1,233.5 1078.7,228.0 1080.3,226.3 1082.0,226.6 1083.6,240.3 1085.2,252.6 1086.8,239.8 1088.4,254.6 1090.0,254.4 1091.6,238.5 1093.3,237.5 1094.9,253.2 1096.5,230.0 1098.1,243.2 1099.7,248.3 1101.3,250.9 1103.0,232.0 1104.6,240.3 1106.2,243.4 1107.8,242.1 1109.4,246.0 1111.0,247.0 1112.7,245.2 1114.3,245.4 1115.9,226.8 1117.5,244.4 1119.1,224.2 1120.7,234.6 1122.3,239.8 1124.0,234.7 1125.6,231.3 1127.2,229.5 1128.8,227.9 1130.4,229.8 1132.0,243.4 1133.7,239.3 1135.3,223.5 1136.9,231.6 1138.5,243.0 1140.1,235.4 1141.7,224.0 1143.4,223.1 1145.0,231.0 1146.6,229.7 1148.2,226.8 1149.8,234.4 1151.4,239.6 1153.0,219.8 1154.7,238.2 1156.3,224.0 1157.9,249.9 1159.5,247.6 1161.1,247.4 1162.7,235.8 1164.4,246.5 1166.0,245.9 1167.6,249.5 1169.2,240.0 1170.8,229.3 1172.4,245.5 1174.1,235.6 1175.7,237.2 1177.3,244.8 1178.9,236.9 1180.5,230.7 1182.1,246.3 1183.8,239.4"/>
<polyline class="ln b" marker-start="url(#mb)" marker-mid="url(#mb)" marker-end="url(#mb)" points="699.0,220.1 700.6,6.6 702.2,7.9 703.8,10.1 705.5,12.3 707.1,14.5 708.7,17.7 710.3,21.0 711.9,26.4 713.5,34.2 715.2,43.1 716.8,52.7 718.4,62.8 720.0,72.8 721.6,82.4 723.2,94.1 724.9,97.7 726.5,102.1 728.1,112.6 729.7,114.6 731.3,115.2 732.9,114.0 734.5,117.2 736.2,116.1 737.8,115.6 739.4,117.3 741.0,113.9 742.6,113.3 744.2,119.0 745.9,126.7 747.5,122.2 749.1,121.4 750.7,118.7 752.3,113.1 753.9,117.9 755.6,118.1 757.2,122.6 758.8,119.8 760.4,120.7 762.0,125.4 763.6,128.9 765.2,131.8 766.9,140.8 768.5,144.7 770.1,149.8 771.7,153.3 773.3,156.4 774.9,164.7 776.6,167.8 778.2,169.8 779.8,169.4 781.4,173.3 783.0,178.0 784.6,183.3 786.3,190.3 787.9,209.0 789.5,206.2 791.1,214.9 792.7,216.5 794.3,215.4 796.0,222.6 797.6,233.0 799.2,236.4 800.8,246.4 802.4,255.5 804.0,251.5 805.6,260.0 807.3,250.8 808.9,281.0 810.5,277.0 812.1,272.0 813.7,263.7 815.3,271.0 817.0,261.1 818.6,268.8 820.2,276.5 821.8,274.6 823.4,273.8 825.0,281.0 826.7,292.6 828.3,293.7 829.9,287.2 831.5,287.9 833.1,285.8 834.7,307.1 836.3,324.4 838.0,313.4 839.6,318.4 841.2,317.3 842.8,329.2 844.4,326.0 846.0,330.3 847.7,334.1 849.3,328.5 850.9,336.4 852.5,328.7 854.1,336.9 855.7,323.2 857.4,329.4 859.0,310.2 860.6,325.8 862.2,310.9 863.8,331.6 865.4,347.1 867.0,347.8 868.7,357.6 870.3,364.6 871.9,362.5 873.5,365.0 875.1,359.7 876.7,359.3 878.4,368.4 880.0,351.8 881.6,346.4 883.2,375.7 884.8,361.2 886.4,350.0 888.1,364.7 889.7,367.5 891.3,375.7 892.9,359.2 894.5,337.9 896.1,337.1 897.7,338.9 899.4,356.2 901.0,339.9 902.6,342.5 904.2,352.0 905.8,340.4 907.4,336.0 909.1,321.3 910.7,338.2 912.3,333.8 913.9,339.6 915.5,312.7 917.1,323.7 918.8,316.3 920.4,330.5 922.0,351.9 923.6,351.7 925.2,352.5 926.8,331.6 928.4,337.7 930.1,354.5 931.7,367.2 933.3,362.2 934.9,357.2 936.5,346.7 938.1,331.5 939.8,333.2 941.4,342.9 943.0,345.3 944.6,348.1 946.2,346.3 947.8,350.7 949.5,350.4 951.1,362.4 952.7,367.9 954.3,355.9 955.9,348.7 957.5,344.4 959.1,335.2 960.8,332.4 962.4,353.6 964.0,352.7 965.6,346.1 967.2,349.9 968.8,337.6 970.5,342.8 972.1,362.1 973.7,362.0 975.3,352.9 976.9,334.0 978.5,325.8 980.2,342.8 981.8,361.3 983.4,344.6 985.0,350.4 986.6,347.1 988.2,360.4 989.8,355.3 991.5,342.0 993.1,337.7 994.7,323.1 996.3,314.5 997.9,315.7 999.5,313.3 1001.2,331.3 1002.8,319.6 1004.4,323.0 1006.0,324.4 1007.6,330.2 1009.2,352.5 1010.9,348.2 1012.5,343.6 1014.1,352.5 1015.7,335.2 1017.3,328.1 1018.9,352.2 1020.6,359.2 1022.2,352.4 1023.8,350.1 1025.4,326.5 1027.0,329.9 1028.6,342.3 1030.2,356.3 1031.9,353.8 1033.5,349.1 1035.1,347.8 1036.7,365.4 1038.3,364.4 1039.9,352.5 1041.6,367.8 1043.2,360.8 1044.8,342.5 1046.4,333.3 1048.0,329.3 1049.6,320.4 1051.3,325.0 1052.9,325.1 1054.5,329.0 1056.1,321.3 1057.7,314.4 1059.3,317.4 1060.9,329.9 1062.6,348.3 1064.2,357.0 1065.8,335.6 1067.4,338.6 1069.0,331.4 1070.6,330.5 1072.3,333.0 1073.9,330.8 1075.5,343.0 1077.1,343.4 1078.7,348.5 1080.3,354.4 1082.0,367.8 1083.6,365.4 1085.2,346.7 1086.8,343.9 1088.4,342.9 1090.0,340.2 1091.6,343.8 1093.3,345.5 1094.9,342.9 1096.5,353.1 1098.1,361.2 1099.7,353.3 1101.3,354.7 1103.0,364.3 1104.6,370.8 1106.2,350.7 1107.8,343.5 1109.4,349.8 1111.0,341.3 1112.7,341.3 1114.3,349.2 1115.9,331.4 1117.5,319.2 1119.1,334.6 1120.7,317.4 1122.3,326.4 1124.0,331.0 1125.6,329.5 1127.2,331.2 1128.8,336.5 1130.4,338.7 1132.0,329.3 1133.7,324.7 1135.3,347.4 1136.9,352.0 1138.5,351.4 1140.1,358.3 1141.7,359.1 1143.4,349.9 1145.0,343.6 1146.6,339.8 1148.2,335.0 1149.8,335.2 1151.4,321.7 1153.0,337.3 1154.7,351.5 1156.3,355.8 1157.9,358.6 1159.5,338.4 1161.1,336.6 1162.7,331.1 1164.4,332.0 1166.0,355.0 1167.6,340.5 1169.2,336.7 1170.8,332.8 1172.4,340.8 1174.1,331.1 1175.7,337.9 1177.3,345.7 1178.9,339.6 1180.5,345.6 1182.1,349.8 1183.8,349.3"/>
<polyline class="ln m" marker-start="url(#mm)" marker-mid="url(#mm)" marker-end="url(#mm)" points="699.0,220.1 700.6,375.7 702.2,361.5 703.8,336.5 705.5,321.3 707.1,314.8 708.7,313.5 710.3,310.1 711.9,311.2 713.5,296.4 715.2,303.0 716.8,296.4 718.4,289.0 720.0,303.1 721.6,285.3 723.2,291.5 724.9,283.4 726.5,294.3 728.1,295.3 729.7,280.0 731.3,281.2 732.9,282.7 734.5,278.6 736.2,277.8 737.8,288.6 739.4,288.3 741.0,286.2 742.6,284.0 744.2,281.9 745.9,278.9 747.5,274.2 749.1,268.1 750.7,263.8 752.3,266.4 753.9,264.7 755.6,260.8 757.2,266.9 758.8,264.5 760.4,257.7 762.0,261.7 763.6,261.2 765.2,257.5 766.9,247.4 768.5,251.7 770.1,256.8 771.7,258.2 773.3,253.7 774.9,240.8 776.6,259.4 778.2,246.6 779.8,243.7 781.4,237.2 783.0,254.9 784.6,235.6 786.3,236.0 787.9,244.1 789.5,243.7 791.1,249.4 792.7,244.3 794.3,244.3 796.0,236.1 797.6,238.5 799.2,241.4 800.8,235.8 802.4,235.0 804.0,236.6 805.6,246.9 807.3,231.1 808.9,244.8 810.5,245.1 812.1,238.1 813.7,232.6 815.3,227.9 817.0,243.7 818.6,228.6 820.2,228.8 821.8,236.3 823.4,235.8 825.0,237.5 826.7,237.4 828.3,239.8 829.9,239.2 831.5,235.0 833.1,230.6 834.7,223.8 836.3,238.5 838.0,242.4 839.6,235.3 841.2,239.9 842.8,235.0 844.4,243.8 846.0,255.5 847.7,247.9 849.3,232.3 850.9,234.1 852.5,241.7 854.1,233.6 855.7,242.9 857.4,241.2 859.0,238.4 860.6,243.7 862.2,246.4 863.8,243.6 865.4,244.6 867.0,247.5 868.7,252.3 870.3,259.5 871.9,258.0 873.5,238.7 875.1,251.8 876.7,240.7 878.4,254.4 880.0,242.7 881.6,242.1 883.2,245.7 884.8,256.3 886.4,262.0 888.1,243.4 889.7,262.4 891.3,260.8 892.9,237.5 894.5,236.9 896.1,243.1 897.7,245.4 899.4,247.0 901.0,239.7 902.6,243.3 904.2,247.5 905.8,245.7 907.4,236.0 909.1,245.7 910.7,245.5 912.3,236.6 913.9,227.9 915.5,234.6 917.1,237.9 918.8,231.9 920.4,244.7 922.0,244.8 923.6,235.5 925.2,233.0 926.8,235.8 928.4,245.3 930.1,237.2 931.7,235.7 933.3,239.4 934.9,236.8 936.5,234.2 938.1,240.4 939.8,249.2 941.4,251.1 943.0,244.8 944.6,248.4 946.2,247.9 947.8,251.1 949.5,242.9 951.1,238.4 952.7,239.4 954.3,248.6 955.9,237.8 957.5,239.3 959.1,247.3 960.8,239.8 962.4,246.9 964.0,246.9 965.6,237.2 967.2,237.6 968.8,243.9 970.5,245.9 972.1,239.5 973.7,246.2 975.3,238.2 976.9,240.1 978.5,233.0 980.2,237.3 981.8,246.1 983.4,239.4 985.0,243.4 986.6,250.4 988.2,251.7 989.8,253.0 991.5,243.6 993.1,235.2 994.7,237.0 996.3,241.6 997.9,235.4 999.5,227.2 1001.2,224.0 1002.8,236.2 1004.4,232.4 1006.0,237.3 1007.6,244.2 1009.2,246.2 1010.9,245.5 1012.5,245.6 1014.1,245.7 1015.7,248.7 1017.3,240.8 1018.9,254.0 1020.6,257.5 1022.2,243.4 1023.8,252.0 1025.4,240.9 1027.0,253.8 1028.6,239.7 1030.2,256.6 1031.9,257.9 1033.5,245.4 1035.1,239.7 1036.7,254.3 1038.3,238.9 1039.9,238.6 1041.6,238.9 1043.2,247.6 1044.8,254.5 1046.4,252.2 1048.0,249.5 1049.6,239.5 1051.3,240.5 1052.9,242.1 1054.5,236.6 1056.1,242.2 1057.7,232.4 1059.3,238.2 1060.9,223.3 1062.6,229.2 1064.2,236.3 1065.8,235.9 1067.4,239.0 1069.0,232.9 1070.6,239.0 1072.3,235.8 1073.9,226.6 1075.5,231.8 1077.1,231.9 1078.7,226.4 1080.3,227.0 1082.0,226.4 1083.6,240.1 1085.2,252.6 1086.8,239.2 1088.4,253.3 1090.0,253.6 1091.6,239.4 1093.3,237.6 1094.9,252.2 1096.5,231.9 1098.1,242.5 1099.7,247.7 1101.3,251.5 1103.0,232.5 1104.6,242.6 1106.2,243.9 1107.8,242.7 1109.4,244.9 1111.0,247.1 1112.7,245.0 1114.3,244.6 1115.9,226.8 1117.5,244.5 1119.1,225.9 1120.7,235.9 1122.3,240.3 1124.0,234.4 1125.6,231.7 1127.2,230.8 1128.8,226.9 1130.4,229.7 1132.0,241.6 1133.7,240.1 1135.3,223.8 1136.9,232.6 1138.5,242.9 1140.1,235.5 1141.7,223.6 1143.4,222.6 1145.0,230.7 1146.6,230.5 1148.2,225.0 1149.8,233.7 1151.4,239.8 1153.0,220.2 1154.7,236.9 1156.3,224.1 1157.9,249.2 1159.5,247.8 1161.1,249.7 1162.7,235.4 1164.4,244.4 1166.0,246.2 1167.6,249.6 1169.2,239.4 1170.8,229.9 1172.4,244.5 1174.1,235.0 1175.7,239.5 1177.3,245.1 1178.9,238.0 1180.5,231.7 1182.1,247.7 1183.8,237.9"/>
<rect x="850.1" y="24.1" width="316.1" height="130.7" fill="#fff" stroke="#262626" stroke-width="4.1"/>
<polyline class="ln g" marker-mid="url(#mg)" points="856.2,42.75 888.1,42.75 920.0,42.75"/>
<text class="lb" x="925.5" y="49.0" textLength="99.8" lengthAdjust="spacingAndGlyphs">CD-CKF</text>
<polyline class="ln r" marker-mid="url(#mr)" points="856.2,73.95 888.1,73.95 920.0,73.95"/>
<text class="lb" x="925.0" y="80.2" textLength="101.4" lengthAdjust="spacingAndGlyphs">CD-UKF</text>
<polyline class="ln b" marker-mid="url(#mb)" points="856.2,105.15 888.1,105.15 920.0,105.15"/>
<text class="lb" x="925.0" y="111.5" textLength="235.6" lengthAdjust="spacingAndGlyphs">Augmented CD-EKF</text>
<polyline class="ln m" marker-mid="url(#mm)" points="856.2,136.35 888.1,136.35 920.0,136.35"/>
<text class="lb" x="925.7" y="142.7" textLength="204.8" lengthAdjust="spacingAndGlyphs">Modified CD-EKF</text>
</g>
</svg>
</body>
</html>
